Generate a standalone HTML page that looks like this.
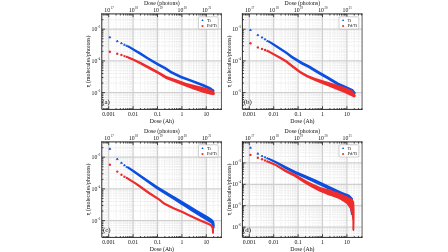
<!DOCTYPE html>
<html><head><meta charset="utf-8"><title>Figure</title>
<style>html,body{margin:0;padding:0;background:#fff;width:448px;height:252px;overflow:hidden}
svg{display:block}
text{stroke:none}</style></head>
<body><svg width="448" height="252" viewBox="0 0 448 252" style="font-family:'Liberation Serif','Times New Roman',serif;fill:#111">
<rect width="448" height="252" fill="#fff"/>
<g transform="translate(0,0)">
<path d="M103.29 13.9V109.4M104.92 13.9V109.4M106.34 13.9V109.4M107.58 13.9V109.4M116.05 13.9V109.4M120.34 13.9V109.4M123.39 13.9V109.4M125.75 13.9V109.4M127.69 13.9V109.4M129.32 13.9V109.4M130.74 13.9V109.4M131.98 13.9V109.4M140.45 13.9V109.4M144.74 13.9V109.4M147.79 13.9V109.4M150.15 13.9V109.4M152.09 13.9V109.4M153.72 13.9V109.4M155.14 13.9V109.4M156.38 13.9V109.4M164.85 13.9V109.4M169.14 13.9V109.4M172.19 13.9V109.4M174.55 13.9V109.4M176.49 13.9V109.4M178.12 13.9V109.4M179.54 13.9V109.4M180.78 13.9V109.4M189.25 13.9V109.4M193.54 13.9V109.4M196.59 13.9V109.4M198.95 13.9V109.4M200.89 13.9V109.4M202.52 13.9V109.4M203.94 13.9V109.4M205.18 13.9V109.4M213.65 13.9V109.4M217.94 13.9V109.4M220.99 13.9V109.4M101.8 105.21H221.5M101.8 102.14H221.5M101.8 99.63H221.5M101.8 97.51H221.5M101.8 95.67H221.5M101.8 94.05H221.5M101.8 83.06H221.5M101.8 77.48H221.5M101.8 73.51H221.5M101.8 70.44H221.5M101.8 67.93H221.5M101.8 65.81H221.5M101.8 63.97H221.5M101.8 62.35H221.5M101.8 51.36H221.5M101.8 45.78H221.5M101.8 41.81H221.5M101.8 38.74H221.5M101.8 36.23H221.5M101.8 34.11H221.5M101.8 32.27H221.5M101.8 30.65H221.5M101.8 19.66H221.5" stroke="#cbcbcb" stroke-width="0.5" stroke-dasharray="0.7 0.9" fill="none"/>
<path d="M108.7 13.9V109.4M133.1 13.9V109.4M157.5 13.9V109.4M181.9 13.9V109.4M206.3 13.9V109.4M101.8 29.2H221.5M101.8 60.9H221.5M101.8 92.6H221.5" stroke="#cfcfcf" stroke-width="1.2" fill="none"/>
<path d="M108.7 13.9v3.2M108.7 109.4v-3.2M133.1 13.9v3.2M133.1 109.4v-3.2M157.5 13.9v3.2M157.5 109.4v-3.2M181.9 13.9v3.2M181.9 109.4v-3.2M206.3 13.9v3.2M206.3 109.4v-3.2M103.29 13.9v1.6M103.29 109.4v-1.3M104.92 13.9v1.6M104.92 109.4v-1.3M106.34 13.9v1.6M106.34 109.4v-1.3M107.58 13.9v1.6M107.58 109.4v-1.3M116.05 13.9v1.6M116.05 109.4v-1.3M120.34 13.9v1.6M120.34 109.4v-1.3M123.39 13.9v1.6M123.39 109.4v-1.3M125.75 13.9v1.6M125.75 109.4v-1.3M127.69 13.9v1.6M127.69 109.4v-1.3M129.32 13.9v1.6M129.32 109.4v-1.3M130.74 13.9v1.6M130.74 109.4v-1.3M131.98 13.9v1.6M131.98 109.4v-1.3M140.45 13.9v1.6M140.45 109.4v-1.3M144.74 13.9v1.6M144.74 109.4v-1.3M147.79 13.9v1.6M147.79 109.4v-1.3M150.15 13.9v1.6M150.15 109.4v-1.3M152.09 13.9v1.6M152.09 109.4v-1.3M153.72 13.9v1.6M153.72 109.4v-1.3M155.14 13.9v1.6M155.14 109.4v-1.3M156.38 13.9v1.6M156.38 109.4v-1.3M164.85 13.9v1.6M164.85 109.4v-1.3M169.14 13.9v1.6M169.14 109.4v-1.3M172.19 13.9v1.6M172.19 109.4v-1.3M174.55 13.9v1.6M174.55 109.4v-1.3M176.49 13.9v1.6M176.49 109.4v-1.3M178.12 13.9v1.6M178.12 109.4v-1.3M179.54 13.9v1.6M179.54 109.4v-1.3M180.78 13.9v1.6M180.78 109.4v-1.3M189.25 13.9v1.6M189.25 109.4v-1.3M193.54 13.9v1.6M193.54 109.4v-1.3M196.59 13.9v1.6M196.59 109.4v-1.3M198.95 13.9v1.6M198.95 109.4v-1.3M200.89 13.9v1.6M200.89 109.4v-1.3M202.52 13.9v1.6M202.52 109.4v-1.3M203.94 13.9v1.6M203.94 109.4v-1.3M205.18 13.9v1.6M205.18 109.4v-1.3M213.65 13.9v1.6M213.65 109.4v-1.3M217.94 13.9v1.6M217.94 109.4v-1.3M220.99 13.9v1.6M220.99 109.4v-1.3M101.8 29.2h3.2M101.8 60.9h3.2M101.8 92.6h3.2M101.8 105.21h1.6M101.8 102.14h1.6M101.8 99.63h1.6M101.8 97.51h1.6M101.8 95.67h1.6M101.8 94.05h1.6M101.8 83.06h1.6M101.8 77.48h1.6M101.8 73.51h1.6M101.8 70.44h1.6M101.8 67.93h1.6M101.8 65.81h1.6M101.8 63.97h1.6M101.8 62.35h1.6M101.8 51.36h1.6M101.8 45.78h1.6M101.8 41.81h1.6M101.8 38.74h1.6M101.8 36.23h1.6M101.8 34.11h1.6M101.8 32.27h1.6M101.8 30.65h1.6M101.8 19.66h1.6" stroke="#222" stroke-width="0.8" fill="none"/>

<polygon points="127.78,47.26 134.04,51.14 139.34,54.46 147.35,59.57 157.36,65.43 164.32,69.31 170.37,73.34 180.5,78.2 190.54,81.82 202.48,86.54 209.33,89.83 212.44,91.96 213.96,89.84 210.67,87.37 203.52,84.06 191.46,79.38 181.5,75.8 171.63,71.06 165.68,67.09 158.64,63.17 148.65,57.43 140.66,52.34 135.16,49.26 128.82,45.54" fill="#0c4fe0"/><circle cx="128.3" cy="46.4" r="1" fill="#0c4fe0"/><circle cx="213.2" cy="90.9" r="1.3" fill="#0c4fe0"/>
<polygon points="127.89,58.41 132.54,60.6 139.43,64.01 148.89,69.15 158.31,74.32 165.34,78.86 176.41,82.89 185.38,86.59 193.35,89.41 202.25,92.39 209.62,94.5 212.39,94.95 214.01,91.85 211.38,89.5 203.75,87.21 194.65,84.99 186.62,83.01 177.59,79.71 166.66,75.94 159.69,71.88 150.11,66.85 140.57,61.79 133.46,58.6 128.71,56.59" fill="#ee2c2c"/><circle cx="128.3" cy="57.5" r="1" fill="#ee2c2c"/><circle cx="213.2" cy="93.4" r="1.75" fill="#ee2c2c"/>
<path d="M109.85 36.27l0.95 1.6h-1.9z" fill="#0c4fe0" stroke="#0c4fe0" stroke-width="0.75" stroke-linejoin="round"/>
<path d="M117.25 40.12l0.95 1.6h-1.9z" fill="#0c4fe0" stroke="#0c4fe0" stroke-width="0.75" stroke-linejoin="round"/>
<path d="M121.45 42.12l0.95 1.6h-1.9z" fill="#0c4fe0" stroke="#0c4fe0" stroke-width="0.75" stroke-linejoin="round"/>
<path d="M124.45 43.72l0.95 1.6h-1.9z" fill="#0c4fe0" stroke="#0c4fe0" stroke-width="0.75" stroke-linejoin="round"/>
<path d="M126.85 44.82l0.95 1.6h-1.9z" fill="#0c4fe0" stroke="#0c4fe0" stroke-width="0.75" stroke-linejoin="round"/>
<circle cx="109.85" cy="51.8" r="1.2" fill="#ee2c2c"/>
<circle cx="117.25" cy="53.7" r="1.2" fill="#ee2c2c"/>
<circle cx="121.45" cy="55" r="1.2" fill="#ee2c2c"/>
<circle cx="124.45" cy="56.1" r="1.2" fill="#ee2c2c"/>
<circle cx="126.85" cy="56.9" r="1.2" fill="#ee2c2c"/>
<path d="M221.5 13.9V109.4H221.5" fill="none" stroke="#555" stroke-width="0.9"/>
<path d="M101.8 13.9H221.5M101.8 13.9V109.4H221.5" fill="none" stroke="#111" stroke-width="0.9" stroke-linecap="square"/>
<text x="108.7" y="115.6" text-anchor="middle" font-size="5.8">0.001</text>
<text x="133.1" y="115.6" text-anchor="middle" font-size="5.8">0.01</text>
<text x="157.5" y="115.6" text-anchor="middle" font-size="5.8">0.1</text>
<text x="181.9" y="115.6" text-anchor="middle" font-size="5.8">1</text>
<text x="206.3" y="115.6" text-anchor="middle" font-size="5.8">10</text>
<text x="109" y="11.8" text-anchor="middle" font-size="5.8">10<tspan font-size="3.0" dx="0.5" dy="-3.1">17</tspan></text>
<text x="133.4" y="11.8" text-anchor="middle" font-size="5.8">10<tspan font-size="3.0" dx="0.5" dy="-3.1">18</tspan></text>
<text x="157.8" y="11.8" text-anchor="middle" font-size="5.8">10<tspan font-size="3.0" dx="0.5" dy="-3.1">19</tspan></text>
<text x="182.2" y="11.8" text-anchor="middle" font-size="5.8">10<tspan font-size="3.0" dx="0.5" dy="-3.1">20</tspan></text>
<text x="206.6" y="11.8" text-anchor="middle" font-size="5.8">10<tspan font-size="3.0" dx="0.5" dy="-3.1">21</tspan></text>
<text x="100.3" y="31.2" text-anchor="end" font-size="5.8">10<tspan font-size="3.0" dx="0.4" dy="-3.1">-3</tspan></text>
<text x="100.3" y="62.9" text-anchor="end" font-size="5.8">10<tspan font-size="3.0" dx="0.4" dy="-3.1">-4</tspan></text>
<text x="100.3" y="94.6" text-anchor="end" font-size="5.8">10<tspan font-size="3.0" dx="0.4" dy="-3.1">-5</tspan></text>
<text x="161.8" y="5.3" text-anchor="middle" font-size="5.8">Dose (photons)</text>
<text x="161.8" y="122.6" text-anchor="middle" font-size="5.8">Dose (Ah)</text>
<text transform="translate(90.4,61.5) rotate(-90)" text-anchor="middle" font-size="5.8">&#951; (molecules/photons)</text>
<text x="102.2" y="103.6" font-size="6.9">(a)</text>
<rect x="198.4" y="16.8" width="19.8" height="12.2" rx="1" fill="#fff" stroke="#a0a0a0" stroke-width="0.5"/>
<path d="M202.5 19.1L203.6 21.1H201.4Z" fill="#0c4fe0"/>
<circle cx="202.5" cy="26" r="1.05" fill="#ee2c2c"/>
<text x="206.9" y="21.9" font-size="4.5">Ti</text>
<text x="206.9" y="27.4" font-size="4.5">Pd/Ti</text>
</g>
<g transform="translate(140.6,0)">
<path d="M103.29 13.9V109.4M104.92 13.9V109.4M106.34 13.9V109.4M107.58 13.9V109.4M116.05 13.9V109.4M120.34 13.9V109.4M123.39 13.9V109.4M125.75 13.9V109.4M127.69 13.9V109.4M129.32 13.9V109.4M130.74 13.9V109.4M131.98 13.9V109.4M140.45 13.9V109.4M144.74 13.9V109.4M147.79 13.9V109.4M150.15 13.9V109.4M152.09 13.9V109.4M153.72 13.9V109.4M155.14 13.9V109.4M156.38 13.9V109.4M164.85 13.9V109.4M169.14 13.9V109.4M172.19 13.9V109.4M174.55 13.9V109.4M176.49 13.9V109.4M178.12 13.9V109.4M179.54 13.9V109.4M180.78 13.9V109.4M189.25 13.9V109.4M193.54 13.9V109.4M196.59 13.9V109.4M198.95 13.9V109.4M200.89 13.9V109.4M202.52 13.9V109.4M203.94 13.9V109.4M205.18 13.9V109.4M213.65 13.9V109.4M217.94 13.9V109.4M220.99 13.9V109.4M101.8 105.21H221.5M101.8 102.14H221.5M101.8 99.63H221.5M101.8 97.51H221.5M101.8 95.67H221.5M101.8 94.05H221.5M101.8 83.06H221.5M101.8 77.48H221.5M101.8 73.51H221.5M101.8 70.44H221.5M101.8 67.93H221.5M101.8 65.81H221.5M101.8 63.97H221.5M101.8 62.35H221.5M101.8 51.36H221.5M101.8 45.78H221.5M101.8 41.81H221.5M101.8 38.74H221.5M101.8 36.23H221.5M101.8 34.11H221.5M101.8 32.27H221.5M101.8 30.65H221.5M101.8 19.66H221.5" stroke="#cbcbcb" stroke-width="0.5" stroke-dasharray="0.7 0.9" fill="none"/>
<path d="M108.7 13.9V109.4M133.1 13.9V109.4M157.5 13.9V109.4M181.9 13.9V109.4M206.3 13.9V109.4M101.8 29.2H221.5M101.8 60.9H221.5M101.8 92.6H221.5" stroke="#cfcfcf" stroke-width="1.2" fill="none"/>
<path d="M108.7 13.9v3.2M108.7 109.4v-3.2M133.1 13.9v3.2M133.1 109.4v-3.2M157.5 13.9v3.2M157.5 109.4v-3.2M181.9 13.9v3.2M181.9 109.4v-3.2M206.3 13.9v3.2M206.3 109.4v-3.2M103.29 13.9v1.6M103.29 109.4v-1.3M104.92 13.9v1.6M104.92 109.4v-1.3M106.34 13.9v1.6M106.34 109.4v-1.3M107.58 13.9v1.6M107.58 109.4v-1.3M116.05 13.9v1.6M116.05 109.4v-1.3M120.34 13.9v1.6M120.34 109.4v-1.3M123.39 13.9v1.6M123.39 109.4v-1.3M125.75 13.9v1.6M125.75 109.4v-1.3M127.69 13.9v1.6M127.69 109.4v-1.3M129.32 13.9v1.6M129.32 109.4v-1.3M130.74 13.9v1.6M130.74 109.4v-1.3M131.98 13.9v1.6M131.98 109.4v-1.3M140.45 13.9v1.6M140.45 109.4v-1.3M144.74 13.9v1.6M144.74 109.4v-1.3M147.79 13.9v1.6M147.79 109.4v-1.3M150.15 13.9v1.6M150.15 109.4v-1.3M152.09 13.9v1.6M152.09 109.4v-1.3M153.72 13.9v1.6M153.72 109.4v-1.3M155.14 13.9v1.6M155.14 109.4v-1.3M156.38 13.9v1.6M156.38 109.4v-1.3M164.85 13.9v1.6M164.85 109.4v-1.3M169.14 13.9v1.6M169.14 109.4v-1.3M172.19 13.9v1.6M172.19 109.4v-1.3M174.55 13.9v1.6M174.55 109.4v-1.3M176.49 13.9v1.6M176.49 109.4v-1.3M178.12 13.9v1.6M178.12 109.4v-1.3M179.54 13.9v1.6M179.54 109.4v-1.3M180.78 13.9v1.6M180.78 109.4v-1.3M189.25 13.9v1.6M189.25 109.4v-1.3M193.54 13.9v1.6M193.54 109.4v-1.3M196.59 13.9v1.6M196.59 109.4v-1.3M198.95 13.9v1.6M198.95 109.4v-1.3M200.89 13.9v1.6M200.89 109.4v-1.3M202.52 13.9v1.6M202.52 109.4v-1.3M203.94 13.9v1.6M203.94 109.4v-1.3M205.18 13.9v1.6M205.18 109.4v-1.3M213.65 13.9v1.6M213.65 109.4v-1.3M217.94 13.9v1.6M217.94 109.4v-1.3M220.99 13.9v1.6M220.99 109.4v-1.3M101.8 29.2h3.2M101.8 60.9h3.2M101.8 92.6h3.2M101.8 105.21h1.6M101.8 102.14h1.6M101.8 99.63h1.6M101.8 97.51h1.6M101.8 95.67h1.6M101.8 94.05h1.6M101.8 83.06h1.6M101.8 77.48h1.6M101.8 73.51h1.6M101.8 70.44h1.6M101.8 67.93h1.6M101.8 65.81h1.6M101.8 63.97h1.6M101.8 62.35h1.6M101.8 51.36h1.6M101.8 45.78h1.6M101.8 41.81h1.6M101.8 38.74h1.6M101.8 36.23h1.6M101.8 34.11h1.6M101.8 32.27h1.6M101.8 30.65h1.6M101.8 19.66h1.6" stroke="#222" stroke-width="0.8" fill="none"/>

<polygon points="127.76,42.34 132.43,45.38 145.05,53.75 150.71,58.14 160.71,64.42 167.68,68.06 176.66,73.55 186.24,79.09 196.7,85.33 205.37,89.16 210.87,91.85 212.82,93.86 214.78,92.14 212.53,89.35 206.63,86.44 198.1,82.67 187.76,76.51 178.14,71.05 169.12,65.54 162.09,61.98 152.09,56.06 146.35,51.85 133.57,43.62 128.84,40.66" fill="#0c4fe0"/><circle cx="128.3" cy="41.5" r="1" fill="#0c4fe0"/><circle cx="213.8" cy="93" r="1.3" fill="#0c4fe0"/>
<polygon points="127.82,52.48 138.93,58.7 145.14,62.44 150.67,66.95 158.71,73.04 165.89,77.31 173.15,80.6 180.2,83.4 186.7,85.98 196.51,90.04 203.44,92.74 209.36,95.54 212.51,96.97 214.69,94.63 212.24,90.86 205.56,87.66 198.29,85.16 188.1,82.02 181.4,80 174.25,77.8 167.11,74.89 160.09,70.96 152.13,65.05 146.46,60.56 140.07,56.7 128.78,50.72" fill="#ee2c2c"/><circle cx="128.3" cy="51.6" r="1" fill="#ee2c2c"/><circle cx="213.6" cy="95.8" r="1.6" fill="#ee2c2c"/>
<path d="M109.85 28.92l0.95 1.6h-1.9z" fill="#0c4fe0" stroke="#0c4fe0" stroke-width="0.75" stroke-linejoin="round"/>
<path d="M117.25 34.02l0.95 1.6h-1.9z" fill="#0c4fe0" stroke="#0c4fe0" stroke-width="0.75" stroke-linejoin="round"/>
<path d="M121.45 36.42l0.95 1.6h-1.9z" fill="#0c4fe0" stroke="#0c4fe0" stroke-width="0.75" stroke-linejoin="round"/>
<path d="M124.45 38.22l0.95 1.6h-1.9z" fill="#0c4fe0" stroke="#0c4fe0" stroke-width="0.75" stroke-linejoin="round"/>
<path d="M126.85 40.02l0.95 1.6h-1.9z" fill="#0c4fe0" stroke="#0c4fe0" stroke-width="0.75" stroke-linejoin="round"/>
<circle cx="109.85" cy="43.3" r="1.2" fill="#ee2c2c"/>
<circle cx="117.25" cy="47.4" r="1.2" fill="#ee2c2c"/>
<circle cx="121.45" cy="48.9" r="1.2" fill="#ee2c2c"/>
<circle cx="124.45" cy="50" r="1.2" fill="#ee2c2c"/>
<circle cx="126.85" cy="51" r="1.2" fill="#ee2c2c"/>
<path d="M221.5 13.9V109.4H221.5" fill="none" stroke="#555" stroke-width="0.9"/>
<path d="M101.8 13.9H221.5M101.8 13.9V109.4H221.5" fill="none" stroke="#111" stroke-width="0.9" stroke-linecap="square"/>
<text x="108.7" y="115.6" text-anchor="middle" font-size="5.8">0.001</text>
<text x="133.1" y="115.6" text-anchor="middle" font-size="5.8">0.01</text>
<text x="157.5" y="115.6" text-anchor="middle" font-size="5.8">0.1</text>
<text x="181.9" y="115.6" text-anchor="middle" font-size="5.8">1</text>
<text x="206.3" y="115.6" text-anchor="middle" font-size="5.8">10</text>
<text x="109" y="11.8" text-anchor="middle" font-size="5.8">10<tspan font-size="3.0" dx="0.5" dy="-3.1">17</tspan></text>
<text x="133.4" y="11.8" text-anchor="middle" font-size="5.8">10<tspan font-size="3.0" dx="0.5" dy="-3.1">18</tspan></text>
<text x="157.8" y="11.8" text-anchor="middle" font-size="5.8">10<tspan font-size="3.0" dx="0.5" dy="-3.1">19</tspan></text>
<text x="182.2" y="11.8" text-anchor="middle" font-size="5.8">10<tspan font-size="3.0" dx="0.5" dy="-3.1">20</tspan></text>
<text x="206.6" y="11.8" text-anchor="middle" font-size="5.8">10<tspan font-size="3.0" dx="0.5" dy="-3.1">21</tspan></text>
<text x="100.3" y="31.2" text-anchor="end" font-size="5.8">10<tspan font-size="3.0" dx="0.4" dy="-3.1">-3</tspan></text>
<text x="100.3" y="62.9" text-anchor="end" font-size="5.8">10<tspan font-size="3.0" dx="0.4" dy="-3.1">-4</tspan></text>
<text x="100.3" y="94.6" text-anchor="end" font-size="5.8">10<tspan font-size="3.0" dx="0.4" dy="-3.1">-5</tspan></text>
<text x="161.8" y="5.3" text-anchor="middle" font-size="5.8">Dose (photons)</text>
<text x="161.8" y="122.6" text-anchor="middle" font-size="5.8">Dose (Ah)</text>
<text transform="translate(90.4,61.5) rotate(-90)" text-anchor="middle" font-size="5.8">&#951; (molecules/photons)</text>
<text x="103.2" y="103.6" font-size="6.9">(b)</text>
<rect x="198.4" y="16.8" width="19.8" height="12.2" rx="1" fill="#fff" stroke="#a0a0a0" stroke-width="0.5"/>
<path d="M202.5 19.1L203.6 21.1H201.4Z" fill="#0c4fe0"/>
<circle cx="202.5" cy="26" r="1.05" fill="#ee2c2c"/>
<text x="206.9" y="21.9" font-size="4.5">Ti</text>
<text x="206.9" y="27.4" font-size="4.5">Pd/Ti</text>
</g>
<g transform="translate(0,128)">
<path d="M103.29 13.9V109.4M104.92 13.9V109.4M106.34 13.9V109.4M107.58 13.9V109.4M116.05 13.9V109.4M120.34 13.9V109.4M123.39 13.9V109.4M125.75 13.9V109.4M127.69 13.9V109.4M129.32 13.9V109.4M130.74 13.9V109.4M131.98 13.9V109.4M140.45 13.9V109.4M144.74 13.9V109.4M147.79 13.9V109.4M150.15 13.9V109.4M152.09 13.9V109.4M153.72 13.9V109.4M155.14 13.9V109.4M156.38 13.9V109.4M164.85 13.9V109.4M169.14 13.9V109.4M172.19 13.9V109.4M174.55 13.9V109.4M176.49 13.9V109.4M178.12 13.9V109.4M179.54 13.9V109.4M180.78 13.9V109.4M189.25 13.9V109.4M193.54 13.9V109.4M196.59 13.9V109.4M198.95 13.9V109.4M200.89 13.9V109.4M202.52 13.9V109.4M203.94 13.9V109.4M205.18 13.9V109.4M213.65 13.9V109.4M217.94 13.9V109.4M220.99 13.9V109.4M101.8 105.21H221.5M101.8 102.14H221.5M101.8 99.63H221.5M101.8 97.51H221.5M101.8 95.67H221.5M101.8 94.05H221.5M101.8 83.06H221.5M101.8 77.48H221.5M101.8 73.51H221.5M101.8 70.44H221.5M101.8 67.93H221.5M101.8 65.81H221.5M101.8 63.97H221.5M101.8 62.35H221.5M101.8 51.36H221.5M101.8 45.78H221.5M101.8 41.81H221.5M101.8 38.74H221.5M101.8 36.23H221.5M101.8 34.11H221.5M101.8 32.27H221.5M101.8 30.65H221.5M101.8 19.66H221.5" stroke="#cbcbcb" stroke-width="0.5" stroke-dasharray="0.7 0.9" fill="none"/>
<path d="M108.7 13.9V109.4M133.1 13.9V109.4M157.5 13.9V109.4M181.9 13.9V109.4M206.3 13.9V109.4M101.8 29.2H221.5M101.8 60.9H221.5M101.8 92.6H221.5" stroke="#cfcfcf" stroke-width="1.2" fill="none"/>
<path d="M108.7 13.9v3.2M108.7 109.4v-3.2M133.1 13.9v3.2M133.1 109.4v-3.2M157.5 13.9v3.2M157.5 109.4v-3.2M181.9 13.9v3.2M181.9 109.4v-3.2M206.3 13.9v3.2M206.3 109.4v-3.2M103.29 13.9v1.6M103.29 109.4v-1.3M104.92 13.9v1.6M104.92 109.4v-1.3M106.34 13.9v1.6M106.34 109.4v-1.3M107.58 13.9v1.6M107.58 109.4v-1.3M116.05 13.9v1.6M116.05 109.4v-1.3M120.34 13.9v1.6M120.34 109.4v-1.3M123.39 13.9v1.6M123.39 109.4v-1.3M125.75 13.9v1.6M125.75 109.4v-1.3M127.69 13.9v1.6M127.69 109.4v-1.3M129.32 13.9v1.6M129.32 109.4v-1.3M130.74 13.9v1.6M130.74 109.4v-1.3M131.98 13.9v1.6M131.98 109.4v-1.3M140.45 13.9v1.6M140.45 109.4v-1.3M144.74 13.9v1.6M144.74 109.4v-1.3M147.79 13.9v1.6M147.79 109.4v-1.3M150.15 13.9v1.6M150.15 109.4v-1.3M152.09 13.9v1.6M152.09 109.4v-1.3M153.72 13.9v1.6M153.72 109.4v-1.3M155.14 13.9v1.6M155.14 109.4v-1.3M156.38 13.9v1.6M156.38 109.4v-1.3M164.85 13.9v1.6M164.85 109.4v-1.3M169.14 13.9v1.6M169.14 109.4v-1.3M172.19 13.9v1.6M172.19 109.4v-1.3M174.55 13.9v1.6M174.55 109.4v-1.3M176.49 13.9v1.6M176.49 109.4v-1.3M178.12 13.9v1.6M178.12 109.4v-1.3M179.54 13.9v1.6M179.54 109.4v-1.3M180.78 13.9v1.6M180.78 109.4v-1.3M189.25 13.9v1.6M189.25 109.4v-1.3M193.54 13.9v1.6M193.54 109.4v-1.3M196.59 13.9v1.6M196.59 109.4v-1.3M198.95 13.9v1.6M198.95 109.4v-1.3M200.89 13.9v1.6M200.89 109.4v-1.3M202.52 13.9v1.6M202.52 109.4v-1.3M203.94 13.9v1.6M203.94 109.4v-1.3M205.18 13.9v1.6M205.18 109.4v-1.3M213.65 13.9v1.6M213.65 109.4v-1.3M217.94 13.9v1.6M217.94 109.4v-1.3M220.99 13.9v1.6M220.99 109.4v-1.3M101.8 29.2h3.2M101.8 60.9h3.2M101.8 92.6h3.2M101.8 105.21h1.6M101.8 102.14h1.6M101.8 99.63h1.6M101.8 97.51h1.6M101.8 95.67h1.6M101.8 94.05h1.6M101.8 83.06h1.6M101.8 77.48h1.6M101.8 73.51h1.6M101.8 70.44h1.6M101.8 67.93h1.6M101.8 65.81h1.6M101.8 63.97h1.6M101.8 62.35h1.6M101.8 51.36h1.6M101.8 45.78h1.6M101.8 41.81h1.6M101.8 38.74h1.6M101.8 36.23h1.6M101.8 34.11h1.6M101.8 32.27h1.6M101.8 30.65h1.6M101.8 19.66h1.6" stroke="#222" stroke-width="0.8" fill="none"/>

<polygon points="127.64,40.43 132.24,43.74 139.25,48.86 147.2,54.55 156.37,60.95 163.06,65.26 169.11,69.05 175.05,72.83 180.31,76.22 186.03,79.79 191.62,83.48 194.95,85.56 200.5,88.95 205.93,92.32 209.53,94.49 211.02,95.16 212.02,97.75 212.7,99.88 214.5,99.72 214.78,97.25 214.18,93.44 212.07,90.91 208.27,88.48 202.7,85.25 197.05,82.04 193.78,80.12 188.17,76.41 182.29,72.98 176.95,69.77 170.89,66.15 164.74,62.54 158.03,58.45 148.8,52.25 140.75,46.74 133.56,41.86 128.76,38.77" fill="#0c4fe0"/><circle cx="128.2" cy="39.6" r="1" fill="#0c4fe0"/><circle cx="213.6" cy="99.8" r="0.9" fill="#0c4fe0"/>
<polygon points="127.68,51.65 134.9,56.22 139.36,59.39 148.39,65.91 158.4,72.16 163.45,76.39 173.06,81.15 182.56,85.15 188.55,88.25 195.54,91.4 201.05,94 206.54,96.36 209.88,97.87 211.2,99.16 211.81,101.34 212,104.83 214,104.77 213.99,101.06 213.2,98.04 211.12,95.93 207.46,94.24 201.95,92 196.46,89.4 189.45,86.35 183.44,83.25 173.94,79.25 164.55,74.61 159.6,70.44 149.61,64.09 140.64,57.61 136.1,54.38 128.72,49.95" fill="#ee2c2c"/><circle cx="128.2" cy="50.8" r="1" fill="#ee2c2c"/><circle cx="213" cy="104.8" r="1" fill="#ee2c2c"/>
<path d="M109.85 19.82l0.95 1.6h-1.9z" fill="#0c4fe0" stroke="#0c4fe0" stroke-width="0.75" stroke-linejoin="round"/>
<path d="M117.25 30.02l0.95 1.6h-1.9z" fill="#0c4fe0" stroke="#0c4fe0" stroke-width="0.75" stroke-linejoin="round"/>
<path d="M121.45 33.82l0.95 1.6h-1.9z" fill="#0c4fe0" stroke="#0c4fe0" stroke-width="0.75" stroke-linejoin="round"/>
<path d="M124.45 36.22l0.95 1.6h-1.9z" fill="#0c4fe0" stroke="#0c4fe0" stroke-width="0.75" stroke-linejoin="round"/>
<path d="M126.85 38.02l0.95 1.6h-1.9z" fill="#0c4fe0" stroke="#0c4fe0" stroke-width="0.75" stroke-linejoin="round"/>
<circle cx="109.85" cy="36.8" r="1.2" fill="#ee2c2c"/>
<circle cx="117.25" cy="43.6" r="1.2" fill="#ee2c2c"/>
<circle cx="121.45" cy="46.8" r="1.2" fill="#ee2c2c"/>
<circle cx="124.45" cy="48.7" r="1.2" fill="#ee2c2c"/>
<circle cx="126.85" cy="49.9" r="1.2" fill="#ee2c2c"/>
<path d="M221.5 13.9V109.4H221.5" fill="none" stroke="#555" stroke-width="0.9"/>
<path d="M101.8 13.9H221.5M101.8 13.9V109.4H221.5" fill="none" stroke="#111" stroke-width="0.9" stroke-linecap="square"/>
<text x="108.7" y="115.6" text-anchor="middle" font-size="5.8">0.001</text>
<text x="133.1" y="115.6" text-anchor="middle" font-size="5.8">0.01</text>
<text x="157.5" y="115.6" text-anchor="middle" font-size="5.8">0.1</text>
<text x="181.9" y="115.6" text-anchor="middle" font-size="5.8">1</text>
<text x="206.3" y="115.6" text-anchor="middle" font-size="5.8">10</text>
<text x="109" y="11.8" text-anchor="middle" font-size="5.8">10<tspan font-size="3.0" dx="0.5" dy="-3.1">17</tspan></text>
<text x="133.4" y="11.8" text-anchor="middle" font-size="5.8">10<tspan font-size="3.0" dx="0.5" dy="-3.1">18</tspan></text>
<text x="157.8" y="11.8" text-anchor="middle" font-size="5.8">10<tspan font-size="3.0" dx="0.5" dy="-3.1">19</tspan></text>
<text x="182.2" y="11.8" text-anchor="middle" font-size="5.8">10<tspan font-size="3.0" dx="0.5" dy="-3.1">20</tspan></text>
<text x="206.6" y="11.8" text-anchor="middle" font-size="5.8">10<tspan font-size="3.0" dx="0.5" dy="-3.1">21</tspan></text>
<text x="100.3" y="31.2" text-anchor="end" font-size="5.8">10<tspan font-size="3.0" dx="0.4" dy="-3.1">-3</tspan></text>
<text x="100.3" y="62.9" text-anchor="end" font-size="5.8">10<tspan font-size="3.0" dx="0.4" dy="-3.1">-4</tspan></text>
<text x="100.3" y="94.6" text-anchor="end" font-size="5.8">10<tspan font-size="3.0" dx="0.4" dy="-3.1">-5</tspan></text>
<text x="161.8" y="5.3" text-anchor="middle" font-size="5.8">Dose (photons)</text>
<text x="161.8" y="122.6" text-anchor="middle" font-size="5.8">Dose (Ah)</text>
<text transform="translate(90.4,61.5) rotate(-90)" text-anchor="middle" font-size="5.8">&#951; (molecules/photons)</text>
<text x="103" y="103.6" font-size="6.9">(c)</text>
<rect x="198.4" y="16.8" width="19.8" height="12.2" rx="1" fill="#fff" stroke="#a0a0a0" stroke-width="0.5"/>
<path d="M202.5 19.1L203.6 21.1H201.4Z" fill="#0c4fe0"/>
<circle cx="202.5" cy="26" r="1.05" fill="#ee2c2c"/>
<text x="206.9" y="21.9" font-size="4.5">Ti</text>
<text x="206.9" y="27.4" font-size="4.5">Pd/Ti</text>
</g>
<g transform="translate(140.6,128)">
<path d="M103.29 13.9V109.4M104.92 13.9V109.4M106.34 13.9V109.4M107.58 13.9V109.4M116.05 13.9V109.4M120.34 13.9V109.4M123.39 13.9V109.4M125.75 13.9V109.4M127.69 13.9V109.4M129.32 13.9V109.4M130.74 13.9V109.4M131.98 13.9V109.4M140.45 13.9V109.4M144.74 13.9V109.4M147.79 13.9V109.4M150.15 13.9V109.4M152.09 13.9V109.4M153.72 13.9V109.4M155.14 13.9V109.4M156.38 13.9V109.4M164.85 13.9V109.4M169.14 13.9V109.4M172.19 13.9V109.4M174.55 13.9V109.4M176.49 13.9V109.4M178.12 13.9V109.4M179.54 13.9V109.4M180.78 13.9V109.4M189.25 13.9V109.4M193.54 13.9V109.4M196.59 13.9V109.4M198.95 13.9V109.4M200.89 13.9V109.4M202.52 13.9V109.4M203.94 13.9V109.4M205.18 13.9V109.4M213.65 13.9V109.4M217.94 13.9V109.4M220.99 13.9V109.4M101.8 107.62H221.5M101.8 105.54H221.5M101.8 103.85H221.5M101.8 102.41H221.5M101.8 101.17H221.5M101.8 100.08H221.5M101.8 92.66H221.5M101.8 88.89H221.5M101.8 86.22H221.5M101.8 84.14H221.5M101.8 82.45H221.5M101.8 81.01H221.5M101.8 79.77H221.5M101.8 78.68H221.5M101.8 71.26H221.5M101.8 67.49H221.5M101.8 64.82H221.5M101.8 62.74H221.5M101.8 61.05H221.5M101.8 59.61H221.5M101.8 58.37H221.5M101.8 57.28H221.5M101.8 49.86H221.5M101.8 46.09H221.5M101.8 43.42H221.5M101.8 41.34H221.5M101.8 39.65H221.5M101.8 38.21H221.5M101.8 36.97H221.5M101.8 35.88H221.5M101.8 28.46H221.5M101.8 24.69H221.5M101.8 22.02H221.5M101.8 19.94H221.5M101.8 18.25H221.5M101.8 16.81H221.5M101.8 15.57H221.5M101.8 14.48H221.5" stroke="#cbcbcb" stroke-width="0.5" stroke-dasharray="0.7 0.9" fill="none"/>
<path d="M108.7 13.9V109.4M133.1 13.9V109.4M157.5 13.9V109.4M181.9 13.9V109.4M206.3 13.9V109.4M101.8 34.9H221.5M101.8 56.3H221.5M101.8 77.7H221.5M101.8 99.1H221.5" stroke="#cfcfcf" stroke-width="1.2" fill="none"/>
<path d="M108.7 13.9v3.2M108.7 109.4v-3.2M133.1 13.9v3.2M133.1 109.4v-3.2M157.5 13.9v3.2M157.5 109.4v-3.2M181.9 13.9v3.2M181.9 109.4v-3.2M206.3 13.9v3.2M206.3 109.4v-3.2M103.29 13.9v1.6M103.29 109.4v-1.3M104.92 13.9v1.6M104.92 109.4v-1.3M106.34 13.9v1.6M106.34 109.4v-1.3M107.58 13.9v1.6M107.58 109.4v-1.3M116.05 13.9v1.6M116.05 109.4v-1.3M120.34 13.9v1.6M120.34 109.4v-1.3M123.39 13.9v1.6M123.39 109.4v-1.3M125.75 13.9v1.6M125.75 109.4v-1.3M127.69 13.9v1.6M127.69 109.4v-1.3M129.32 13.9v1.6M129.32 109.4v-1.3M130.74 13.9v1.6M130.74 109.4v-1.3M131.98 13.9v1.6M131.98 109.4v-1.3M140.45 13.9v1.6M140.45 109.4v-1.3M144.74 13.9v1.6M144.74 109.4v-1.3M147.79 13.9v1.6M147.79 109.4v-1.3M150.15 13.9v1.6M150.15 109.4v-1.3M152.09 13.9v1.6M152.09 109.4v-1.3M153.72 13.9v1.6M153.72 109.4v-1.3M155.14 13.9v1.6M155.14 109.4v-1.3M156.38 13.9v1.6M156.38 109.4v-1.3M164.85 13.9v1.6M164.85 109.4v-1.3M169.14 13.9v1.6M169.14 109.4v-1.3M172.19 13.9v1.6M172.19 109.4v-1.3M174.55 13.9v1.6M174.55 109.4v-1.3M176.49 13.9v1.6M176.49 109.4v-1.3M178.12 13.9v1.6M178.12 109.4v-1.3M179.54 13.9v1.6M179.54 109.4v-1.3M180.78 13.9v1.6M180.78 109.4v-1.3M189.25 13.9v1.6M189.25 109.4v-1.3M193.54 13.9v1.6M193.54 109.4v-1.3M196.59 13.9v1.6M196.59 109.4v-1.3M198.95 13.9v1.6M198.95 109.4v-1.3M200.89 13.9v1.6M200.89 109.4v-1.3M202.52 13.9v1.6M202.52 109.4v-1.3M203.94 13.9v1.6M203.94 109.4v-1.3M205.18 13.9v1.6M205.18 109.4v-1.3M213.65 13.9v1.6M213.65 109.4v-1.3M217.94 13.9v1.6M217.94 109.4v-1.3M220.99 13.9v1.6M220.99 109.4v-1.3M101.8 34.9h3.2M101.8 56.3h3.2M101.8 77.7h3.2M101.8 99.1h3.2M101.8 107.62h1.6M101.8 105.54h1.6M101.8 103.85h1.6M101.8 102.41h1.6M101.8 101.17h1.6M101.8 100.08h1.6M101.8 92.66h1.6M101.8 88.89h1.6M101.8 86.22h1.6M101.8 84.14h1.6M101.8 82.45h1.6M101.8 81.01h1.6M101.8 79.77h1.6M101.8 78.68h1.6M101.8 71.26h1.6M101.8 67.49h1.6M101.8 64.82h1.6M101.8 62.74h1.6M101.8 61.05h1.6M101.8 59.61h1.6M101.8 58.37h1.6M101.8 57.28h1.6M101.8 49.86h1.6M101.8 46.09h1.6M101.8 43.42h1.6M101.8 41.34h1.6M101.8 39.65h1.6M101.8 38.21h1.6M101.8 36.97h1.6M101.8 35.88h1.6M101.8 28.46h1.6M101.8 24.69h1.6M101.8 22.02h1.6M101.8 19.94h1.6M101.8 18.25h1.6M101.8 16.81h1.6M101.8 15.57h1.6M101.8 14.48h1.6" stroke="#222" stroke-width="0.8" fill="none"/>

<polygon points="127.86,31.7 134.87,35.32 144.25,40.74 153.75,45.65 163.34,50.11 174.17,54.89 183.64,59.48 192.66,63.79 200.32,67.21 207.17,69.94 209.34,71.67 209.6,74.45 209.1,77.94 209.65,82.11 210.3,86.1 212.3,85.9 212.15,81.89 212.1,78.06 212.8,74.55 212.26,70.13 208.83,66.86 201.68,63.99 194.14,60.61 185.16,56.32 175.63,51.71 164.66,47.09 155.05,42.95 145.55,38.26 135.93,33.28 128.74,29.9" fill="#0c4fe0"/><circle cx="128.3" cy="30.8" r="1" fill="#0c4fe0"/><circle cx="211.3" cy="86" r="1" fill="#0c4fe0"/>
<polygon points="127.9,34.92 134.88,38.07 144.3,43.99 153.72,48.83 164.5,55.76 171.09,59.58 178.55,63.54 187.97,67.35 189.83,61.65 180.25,59.26 172.91,56.02 166.3,52.64 155.08,46.37 145.5,41.81 135.92,36.13 128.7,33.08" fill="#ee2c2c"/><circle cx="128.3" cy="34" r="1" fill="#ee2c2c"/><circle cx="188.9" cy="64.5" r="3" fill="#ee2c2c"/>
<polygon points="188.9,61.5 198.4,64.8 206.1,68 211.8,71 213.6,74 214,82 213.9,93 213.7,102 212.9,103.2 211.8,102 211.8,93 211,86 209.1,80.2 206.1,76 202.9,73.8 198.4,71 188.9,67.5" fill="#ee2c2c"/>
<path d="M109.85 18.72l0.95 1.6h-1.9z" fill="#0c4fe0" stroke="#0c4fe0" stroke-width="0.75" stroke-linejoin="round"/>
<path d="M117.25 24.62l0.95 1.6h-1.9z" fill="#0c4fe0" stroke="#0c4fe0" stroke-width="0.75" stroke-linejoin="round"/>
<path d="M121.45 27.02l0.95 1.6h-1.9z" fill="#0c4fe0" stroke="#0c4fe0" stroke-width="0.75" stroke-linejoin="round"/>
<path d="M124.45 28.22l0.95 1.6h-1.9z" fill="#0c4fe0" stroke="#0c4fe0" stroke-width="0.75" stroke-linejoin="round"/>
<path d="M126.85 29.42l0.95 1.6h-1.9z" fill="#0c4fe0" stroke="#0c4fe0" stroke-width="0.75" stroke-linejoin="round"/>
<circle cx="109.85" cy="26.9" r="1.2" fill="#ee2c2c"/>
<circle cx="117.25" cy="29.7" r="1.2" fill="#ee2c2c"/>
<circle cx="121.45" cy="31.3" r="1.2" fill="#ee2c2c"/>
<circle cx="124.45" cy="32.4" r="1.2" fill="#ee2c2c"/>
<circle cx="126.85" cy="33.5" r="1.2" fill="#ee2c2c"/>
<path d="M221.5 13.9V109.4H221.5" fill="none" stroke="#555" stroke-width="0.9"/>
<path d="M101.8 13.9H221.5M101.8 13.9V109.4H221.5" fill="none" stroke="#111" stroke-width="0.9" stroke-linecap="square"/>
<text x="108.7" y="115.6" text-anchor="middle" font-size="5.8">0.001</text>
<text x="133.1" y="115.6" text-anchor="middle" font-size="5.8">0.01</text>
<text x="157.5" y="115.6" text-anchor="middle" font-size="5.8">0.1</text>
<text x="181.9" y="115.6" text-anchor="middle" font-size="5.8">1</text>
<text x="206.3" y="115.6" text-anchor="middle" font-size="5.8">10</text>
<text x="109" y="11.8" text-anchor="middle" font-size="5.8">10<tspan font-size="3.0" dx="0.5" dy="-3.1">17</tspan></text>
<text x="133.4" y="11.8" text-anchor="middle" font-size="5.8">10<tspan font-size="3.0" dx="0.5" dy="-3.1">18</tspan></text>
<text x="157.8" y="11.8" text-anchor="middle" font-size="5.8">10<tspan font-size="3.0" dx="0.5" dy="-3.1">19</tspan></text>
<text x="182.2" y="11.8" text-anchor="middle" font-size="5.8">10<tspan font-size="3.0" dx="0.5" dy="-3.1">20</tspan></text>
<text x="206.6" y="11.8" text-anchor="middle" font-size="5.8">10<tspan font-size="3.0" dx="0.5" dy="-3.1">21</tspan></text>
<text x="100.3" y="36.9" text-anchor="end" font-size="5.8">10<tspan font-size="3.0" dx="0.4" dy="-3.1">-3</tspan></text>
<text x="100.3" y="58.3" text-anchor="end" font-size="5.8">10<tspan font-size="3.0" dx="0.4" dy="-3.1">-4</tspan></text>
<text x="100.3" y="79.7" text-anchor="end" font-size="5.8">10<tspan font-size="3.0" dx="0.4" dy="-3.1">-5</tspan></text>
<text x="100.3" y="101.1" text-anchor="end" font-size="5.8">10<tspan font-size="3.0" dx="0.4" dy="-3.1">-6</tspan></text>
<text x="161.8" y="5.3" text-anchor="middle" font-size="5.8">Dose (photons)</text>
<text x="161.8" y="122.6" text-anchor="middle" font-size="5.8">Dose (Ah)</text>
<text transform="translate(90.4,61.5) rotate(-90)" text-anchor="middle" font-size="5.8">&#951; (molecules/photons)</text>
<text x="102.4" y="103.6" font-size="6.9">(d)</text>
<rect x="198.4" y="16.8" width="19.8" height="12.2" rx="1" fill="#fff" stroke="#a0a0a0" stroke-width="0.5"/>
<path d="M202.5 19.1L203.6 21.1H201.4Z" fill="#0c4fe0"/>
<circle cx="202.5" cy="26" r="1.05" fill="#ee2c2c"/>
<text x="206.9" y="21.9" font-size="4.5">Ti</text>
<text x="206.9" y="27.4" font-size="4.5">Pd/Ti</text>
</g>
</svg></body></html>
